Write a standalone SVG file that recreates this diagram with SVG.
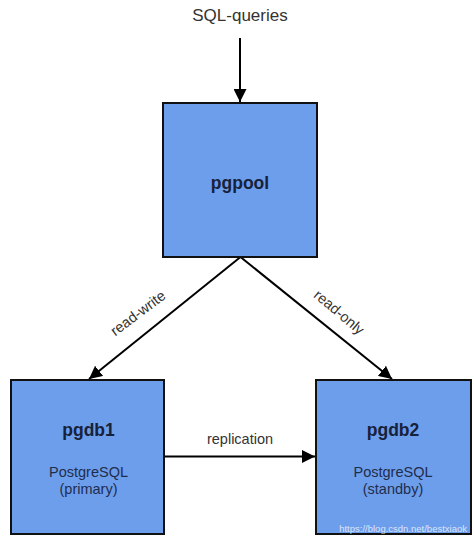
<svg xmlns="http://www.w3.org/2000/svg" width="474" height="540" viewBox="0 0 474 540">
<style>
.box{fill:#6d9eeb;stroke:#111;stroke-width:2}
.ttl{font-family:"Liberation Sans",Arial,sans-serif;font-weight:bold;font-size:17.5px;fill:#17223a;text-anchor:middle}
.sub{font-family:"Liberation Sans",Arial,sans-serif;font-size:14.5px;fill:#1f2d4d;text-anchor:middle}
.lbl{font-family:"Liberation Sans",Arial,sans-serif;font-size:14.5px;fill:#333;text-anchor:middle}
.edge{stroke:#000;stroke-width:2;fill:none;marker-end:url(#ah)}
</style>
<defs>
<marker id="ah" viewBox="0 0 10 10" refX="10" refY="5" markerWidth="6.5" markerHeight="6.5" markerUnits="strokeWidth" orient="auto">
<path d="M0,0 L10,5 L0,10 Z" fill="#000"/>
</marker>
</defs>
<rect width="474" height="540" fill="#fff"/>
<g id="connectors">
<line class="edge" x1="240" y1="38" x2="240" y2="102"/>
<line class="edge" x1="240.5" y1="257" x2="89" y2="379"/>
<line class="edge" x1="240.5" y1="257" x2="392" y2="379"/>
<line class="edge" x1="165" y1="456.5" x2="315" y2="456.5"/>
<text class="lbl" transform="translate(141,317) rotate(-37)">read-write</text>
<text class="lbl" transform="translate(336,316) rotate(40)">read-only</text>
<text class="lbl" x="240" y="444">replication</text>
</g>
<g id="sql-queries">
<text x="240" y="21" style="font-family:'Liberation Sans',Arial,sans-serif;font-size:17px;fill:#333;text-anchor:middle">SQL-queries</text>
</g>
<g id="pgpool">
<rect class="box" x="163" y="103" width="154" height="154"/>
<text class="ttl" x="240" y="189">pgpool</text>
</g>
<g id="pgdb1">
<rect class="box" x="11" y="380" width="153" height="154"/>
<text class="ttl" x="88.5" y="436">pgdb1</text>
<text class="sub" x="88.5" y="477">PostgreSQL</text>
<text class="sub" x="88.5" y="494">(primary)</text>
</g>
<g id="pgdb2">
<rect class="box" x="316" y="380" width="155" height="154"/>
<text class="ttl" x="393" y="436">pgdb2</text>
<text class="sub" x="393" y="477">PostgreSQL</text>
<text class="sub" x="393" y="494">(standby)</text>
</g>
<text x="467" y="532" style="font-family:'Liberation Sans',Arial,sans-serif;font-size:9.5px;fill:#ffffff;fill-opacity:0.75;text-anchor:end">https://blog.csdn.net/bestxiaok</text>
</svg>
